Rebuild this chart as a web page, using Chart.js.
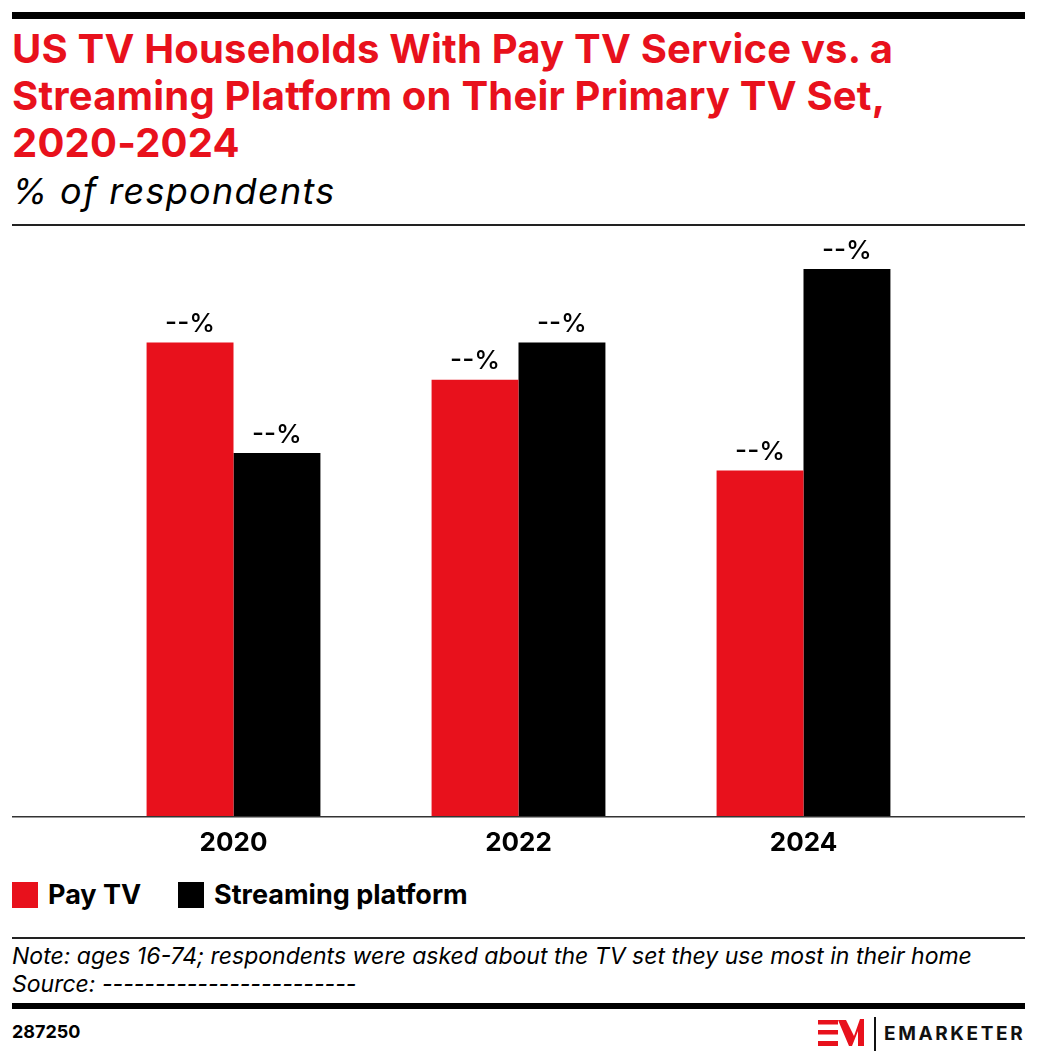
<!DOCTYPE html>
<html>
<head>
<meta charset="utf-8">
<script src="https://cdn.jsdelivr.net/npm/chart.js@4/dist/chart.umd.min.js"></script>
<style>
  body { margin: 0; background: #fff; font-family: Inter, "Liberation Sans", sans-serif; }
  #page { position: relative; width: 1038px; height: 1064px; overflow: hidden; }
  .abs { position: absolute; }
  .bar { left: 12px; width: 1013px; background: #000; }
  #title { left: 12px; top: 25px; font-size: 40px; line-height: 47px; font-weight: 700; color: #e8111c; letter-spacing: 0.2px; }
  #subtitle { left: 12px; top: 171px; font-size: 36px; line-height: 40px; font-style: italic; font-weight: 400; color: #000; letter-spacing: 1.3px; }
  #wrap { left: 0; top: 230px; width: 1038px; height: 640px; }
  .legend { top: 878px; font-size: 27px; font-weight: 700; display: flex; align-items: center; }
  .sw { width: 26px; height: 26px; margin-right: 10px; }
  #note { left: 12px; top: 942px; font-size: 23px; line-height: 28px; font-style: italic; color: #000; }
  #id { left: 12px; top: 1021px; font-size: 18px; font-weight: 700; }
  #brand { left: 884px; top: 1022px; font-size: 19px; font-weight: 700; letter-spacing: 2.6px; color: #111; }
</style>
</head>
<body>
<div id="page">
  <div class="abs bar" style="top:12px;height:7px"></div>
  <div class="abs" id="title">US TV Households With Pay TV Service vs. a<br>Streaming Platform on Their Primary TV Set,<br>2020-2024</div>
  <div class="abs" id="subtitle">% of respondents</div>
  <div class="abs bar" style="top:224px;height:2px;background:#222"></div>
  <div class="abs" id="wrap"><canvas id="chart"></canvas></div>
  <div class="abs legend" style="left:12px"><div class="sw" style="background:#e8111c"></div>Pay TV</div>
  <div class="abs legend" style="left:178px"><div class="sw" style="background:#000"></div>Streaming platform</div>
  <div class="abs bar" style="top:937px;height:2px;background:#222"></div>
  <div class="abs" id="note">Note: ages 16-74; respondents were asked about the TV set they use most in their home<br>Source: ------------------------</div>
  <div class="abs bar" style="top:1003px;height:6px"></div>
  <div class="abs" id="id">287250</div>
  <svg class="abs" style="left:816px;top:1016px" width="52" height="34" viewBox="0 0 52 34">
    <rect x="2" y="4" width="20" height="4.5" fill="#e8111c"/>
    <rect x="2" y="14" width="20" height="4.5" fill="#e8111c"/>
    <rect x="2" y="25" width="20" height="5" fill="#e8111c"/>
    <polygon points="22,4 30,4 38,20 44,3 48,3 48,30 42,30 42,15 36,30 33,30" fill="#e8111c"/>
  </svg>
  <div class="abs" style="left:874px;top:1017px;width:2px;height:34px;background:#111"></div>
  <div class="abs" id="brand">EMARKETER</div>
</div>
<script>
  const categories = ["2020", "2022", "2024"];
  const payTv = [48.5, 44.7, 35.4];
  const streaming = [37.2, 48.5, 56.0];
  const yMax = 60;

  // "--%" labels above each bar
  const barLabels = {
    id: "barLabels",
    afterDatasetsDraw(chart) {
      const ctx = chart.ctx;
      ctx.save();
      ctx.font = "500 26px Inter, sans-serif";
      ctx.fillStyle = "#000";
      ctx.textAlign = "center";
      ctx.textBaseline = "bottom";
      chart.data.datasets.forEach((ds, i) => {
        chart.getDatasetMeta(i).data.forEach((bar) => {
          ctx.fillText("--%", bar.x, bar.y - 5);
        });
      });
      ctx.restore();
    },
  };

  // baseline running the full width
  const baseLine = {
    id: "baseLine",
    afterDatasetsDraw(chart) {
      const ctx = chart.ctx;
      const y = chart.scales.y.getPixelForValue(0);
      ctx.save();
      ctx.strokeStyle = "#333";
      ctx.lineWidth = 1.5;
      ctx.beginPath();
      ctx.moveTo(12, y);
      ctx.lineTo(1025, y);
      ctx.stroke();
      ctx.restore();
    },
  };

  new Chart(document.getElementById("chart"), {
    type: "bar",
    data: {
      labels: categories,
      datasets: [
        { label: "Pay TV", data: payTv, backgroundColor: "#e8111c" },
        { label: "Streaming platform", data: streaming, backgroundColor: "#000" },
      ],
    },
    options: {
      responsive: true,
      maintainAspectRatio: false,
      animation: false,
      layout: { padding: { left: 91, right: 92, top: 0, bottom: 0 } },
      datasets: { bar: { barPercentage: 1, categoryPercentage: 0.61 } },
      plugins: { legend: { display: false }, tooltip: { enabled: false } },
      scales: {
        x: {
          grid: { display: false, drawTicks: false },
          border: { display: false },
          ticks: { padding: 11, color: "#000", font: { family: "Inter, sans-serif", size: 26, weight: "bold" } },
        },
        y: { display: false, min: 0, max: yMax },
      },
    },
    plugins: [barLabels, baseLine],
  });
</script>
</body>
</html>
